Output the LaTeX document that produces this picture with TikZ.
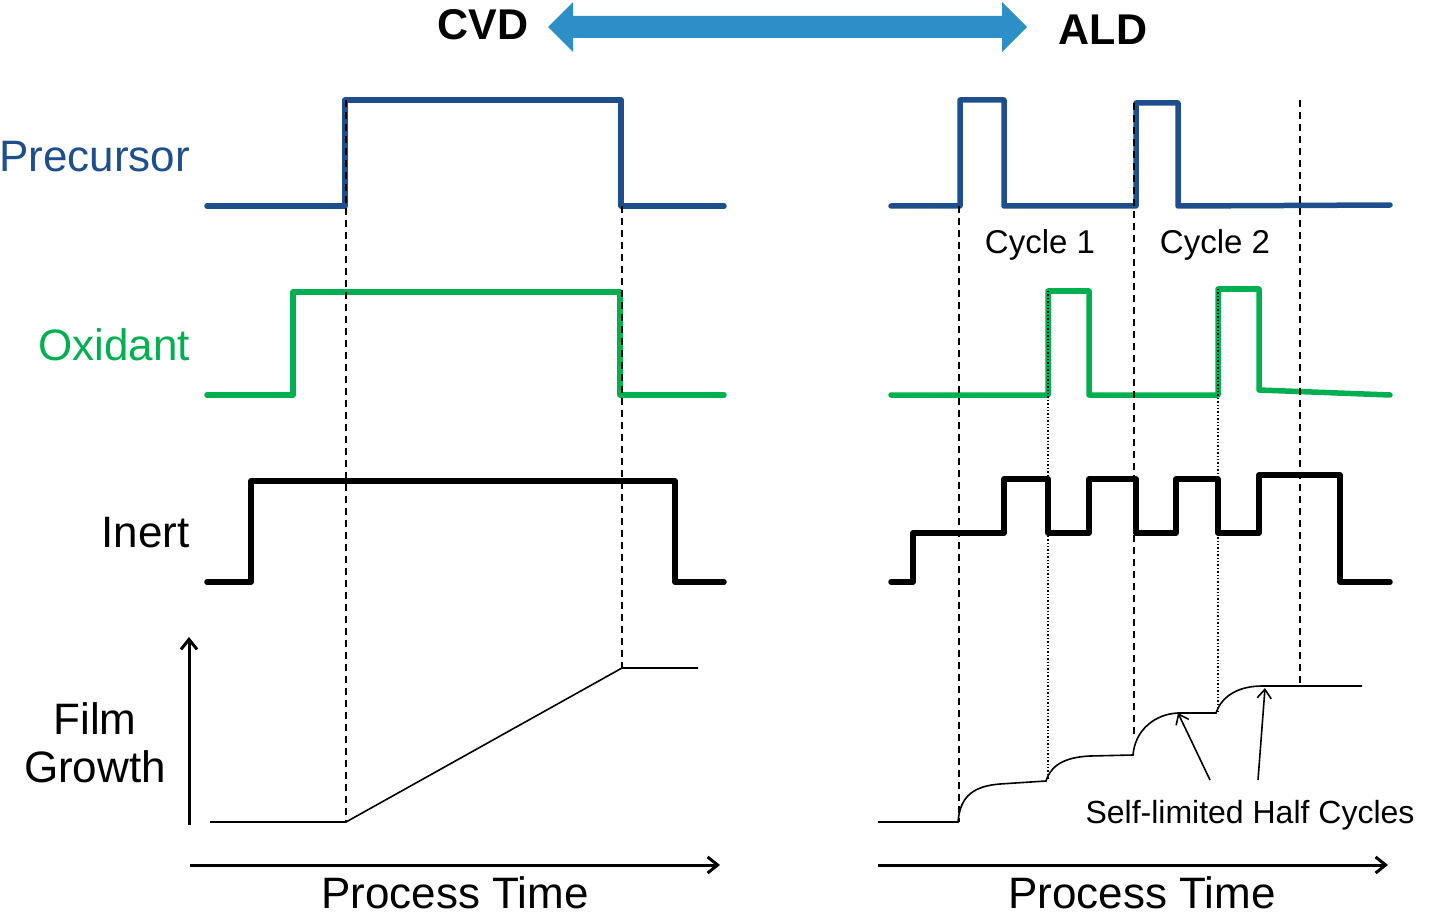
\documentclass[tikz,border=0pt]{standalone}
\usepackage{fontspec}
\setmainfont{Liberation Sans}
\usetikzlibrary{arrows.meta}
\definecolor{pblue}{HTML}{1F4E8C}
\definecolor{ogreen}{HTML}{00B050}
\definecolor{abl}{HTML}{2E8FC8}
\begin{document}
\begin{tikzpicture}[x=1pt,y=-1pt,
 sig/.style={line width=5.5pt,line join=round,line cap=round},
 guide/.style={line width=1.6pt,dash pattern=on 7pt off 5pt},
 dot/.style={line width=1.4pt,dotted},
 thin/.style={line width=1.6pt},
 axis/.style={line width=3pt,-{Straight Barb[length=10pt,width=16pt,line width=3pt]}},
 lab/.style={font=\fontsize{44}{48}\selectfont,inner sep=0pt},
 big/.style={font=\fontsize{43}{46}\selectfont\bfseries,inner sep=0pt},
 cyc/.style={font=\fontsize{33}{36}\selectfont,inner sep=0pt}]
\useasboundingbox (0,0) rectangle (1429,917);
% top arrow
\coordinate (tl) at (548,27);
\coordinate (tr) at (1027,27);
\fill[abl] (tl) -- (573,2) -- (573,16) -- (1002,16) -- (1002,2) -- (tr) -- (1002,52) -- (1002,38) -- (573,38) -- (573,52) -- cycle;
\node[big] (cvd) at (483,25) {CVD};
\node[big] (ald) at (1103,30) {ALD};
% labels
\node[lab,anchor=east,text=pblue] (lp) at (190,157) {Precursor};
\node[lab,anchor=east,text=ogreen] (lo) at (190,345) {Oxidant};
\node[lab,anchor=east] (li) at (190,533) {Inert};
\node[lab,align=center] (lf) at (95,743) {Film\\Growth};
% CVD signals
\draw[sig,pblue] (207,206)--(345,206)--(345,100)--(621,100)--(621,206)--(724,206);
\draw[sig,ogreen] (207,395)--(293,395)--(293,292)--(620,292)--(620,395)--(724,395);
\draw[sig] (207,582)--(251,582)--(251,481)--(675,481)--(675,582)--(724,582);
\draw[guide] (346,100)--(346,822);
\draw[guide] (622,206)--(622,668);
\draw[axis] (189,825)--(189,637);
\draw[thin] (210,822)--(346,822)--(622,668)--(698,668);
\draw[axis] (190,865)--(720,865);
\node[lab] (pt1) at (455,893) {Process Time};
% ALD signals
\draw[sig,pblue] (891,206)--(960,206)--(960,100)--(1004,100)--(1004,206)--(1136,206)--(1136,103)--(1178,103)--(1178,206)--(1390,205);
\draw[sig,ogreen] (891,395)--(1048,395)--(1048,291)--(1089,291)--(1089,395)--(1218,395)--(1218,289)--(1259,289)--(1259,390)--(1390,395);
\draw[sig] (891,582)--(913,582)--(913,533)--(1004,533)--(1004,479)--(1048,479)--(1048,533)--(1089,533)--(1089,479)--(1136,479)--(1136,533)--(1176,533)--(1176,479)--(1218,479)--(1218,533)--(1259,533)--(1259,475)--(1340,475)--(1340,582)--(1390,582);
\draw[guide] (959,206)--(959,822);
\draw[guide] (1134,103)--(1134,735);
\draw[guide] (1300,100)--(1300,686);
\draw[dot] (1048,291)--(1048,780);
\draw[dot] (1218,289)--(1218,714);
\node[cyc] (c1) at (1040,245) {Cycle 1};
\node[cyc] (c2) at (1215,245) {Cycle 2};
% ALD film
\draw[thin] (878,822)--(958,822) .. controls (960,795) and (975,786) .. (1000,784) -- (1046,781)
 .. controls (1052,762) and (1070,757) .. (1090,756) -- (1133,755)
 .. controls (1135,730) and (1155,714) .. (1178,713) -- (1216,713)
 .. controls (1222,695) and (1240,686) .. (1262,686) -- (1362,686);
\coordinate (a1) at (1178,713);
\coordinate (a2) at (1265,688);
\draw[thin,-{Straight Barb[length=9pt,width=14pt,line width=1.6pt]}] (1210,780)--(a1);
\draw[thin,-{Straight Barb[length=9pt,width=14pt,line width=1.6pt]}] (1258,780)--(a2);
\node[cyc,font=\fontsize{32}{35}\selectfont] (sl) at (1250,815) {Self-limited Half Cycles};
\draw[axis] (878,865)--(1388,865);
\node[lab] (pt2) at (1142,893) {Process Time};
\end{tikzpicture}
\end{document}
